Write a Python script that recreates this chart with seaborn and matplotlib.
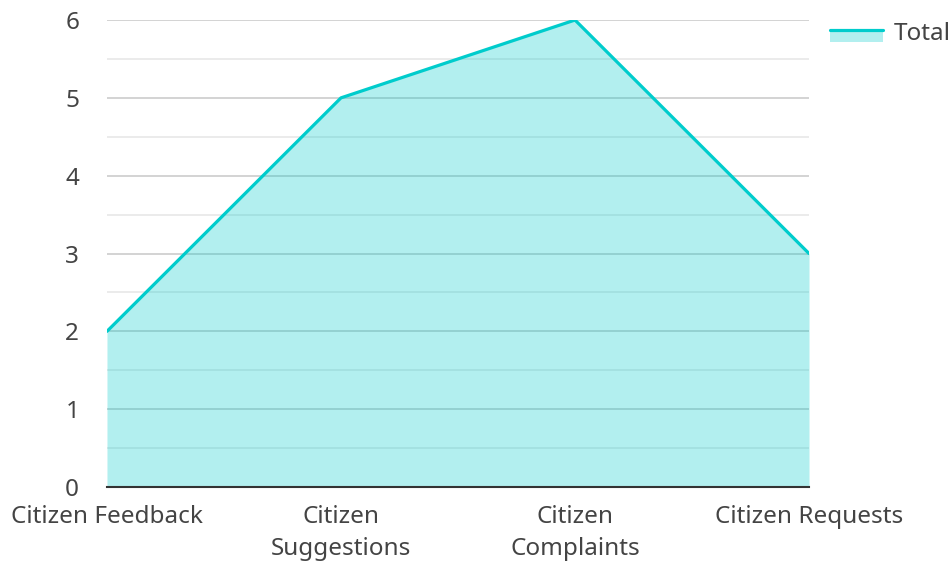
import matplotlib
matplotlib.use("Agg")
import matplotlib.pyplot as plt
import seaborn as sns
import pandas as pd
from matplotlib.patches import Rectangle
from matplotlib.lines import Line2D
from matplotlib.ticker import MultipleLocator

# data
categories = ["Citizen Feedback", "Citizen\nSuggestions", "Citizen\nComplaints", "Citizen Requests"]
totals = [2, 5, 6, 3]
series_name = "Total"

line_color = "#00cccc"
text_color = "#444444"

sns.set_theme(style="white")
plt.rcParams["font.family"] = ["Noto Sans", "DejaVu Sans"]

df = pd.DataFrame({"pos": range(len(categories)), "value": totals})

fig = plt.figure(figsize=(9.5, 5.61), dpi=100)
ax = fig.add_axes([0.1126, 0.1319, 0.739, 0.8324])

# area under the line
ax.fill_between(df["pos"], df["value"], 0, color=line_color, alpha=0.3, lw=0, zorder=2)
sns.lineplot(data=df, x="pos", y="value", color=line_color, linewidth=2.3, ax=ax, zorder=3)

ax.set_xlim(0, len(categories) - 1)
ax.set_ylim(0, 6)
ax.set_xticks(range(len(categories)))
ax.set_xticklabels(categories, fontsize=17.5, color=text_color, linespacing=1.42)
ax.yaxis.set_major_locator(MultipleLocator(1))
ax.yaxis.set_minor_locator(MultipleLocator(0.5))
ax.tick_params(axis="y", labelsize=17.5, labelcolor=text_color, length=0, pad=20)
ax.tick_params(axis="x", length=0, pad=13)
ax.set_xlabel("")
ax.set_ylabel("")

# grid lines
ax.set_axisbelow(True)
ax.grid(which="major", axis="y", color="#c8c8c8", linewidth=1.1, zorder=0)
ax.grid(which="minor", axis="y", color="#e6e6e6", linewidth=1.1, zorder=0)
ax.grid(which="major", axis="x", visible=False)

for side in ["left", "right", "top"]:
    ax.spines[side].set_visible(False)
ax.spines["bottom"].set_color("#333333")
ax.spines["bottom"].set_linewidth(1.5)
ax.spines["bottom"].set_zorder(4)


# legend handle: line on top of a light band
class AreaHandler:
    def legend_artist(self, legend, orig_handle, fontsize, handlebox):
        x0, y0 = handlebox.xdescent, handlebox.ydescent
        w, h = handlebox.width, handlebox.height
        band = Rectangle((x0, y0 - h * 0.15), w, h * 0.75, facecolor=line_color, alpha=0.3,
                         edgecolor="none", transform=handlebox.get_transform())
        ln = Line2D([x0, x0 + w], [y0 + h * 0.6, y0 + h * 0.6], color=line_color,
                    linewidth=2.3, transform=handlebox.get_transform())
        handlebox.add_artist(band)
        handlebox.add_artist(ln)
        return ln


proxy = Line2D([0], [0], color=line_color)
fig.legend([proxy], [series_name], loc="upper right", bbox_to_anchor=(1.024, 1.0),
           frameon=False, fontsize=17.5, handlelength=2.2, handletextpad=0.45,
           labelcolor=text_color, handler_map={Line2D: AreaHandler()})

fig.savefig("out.png", dpi=100)
